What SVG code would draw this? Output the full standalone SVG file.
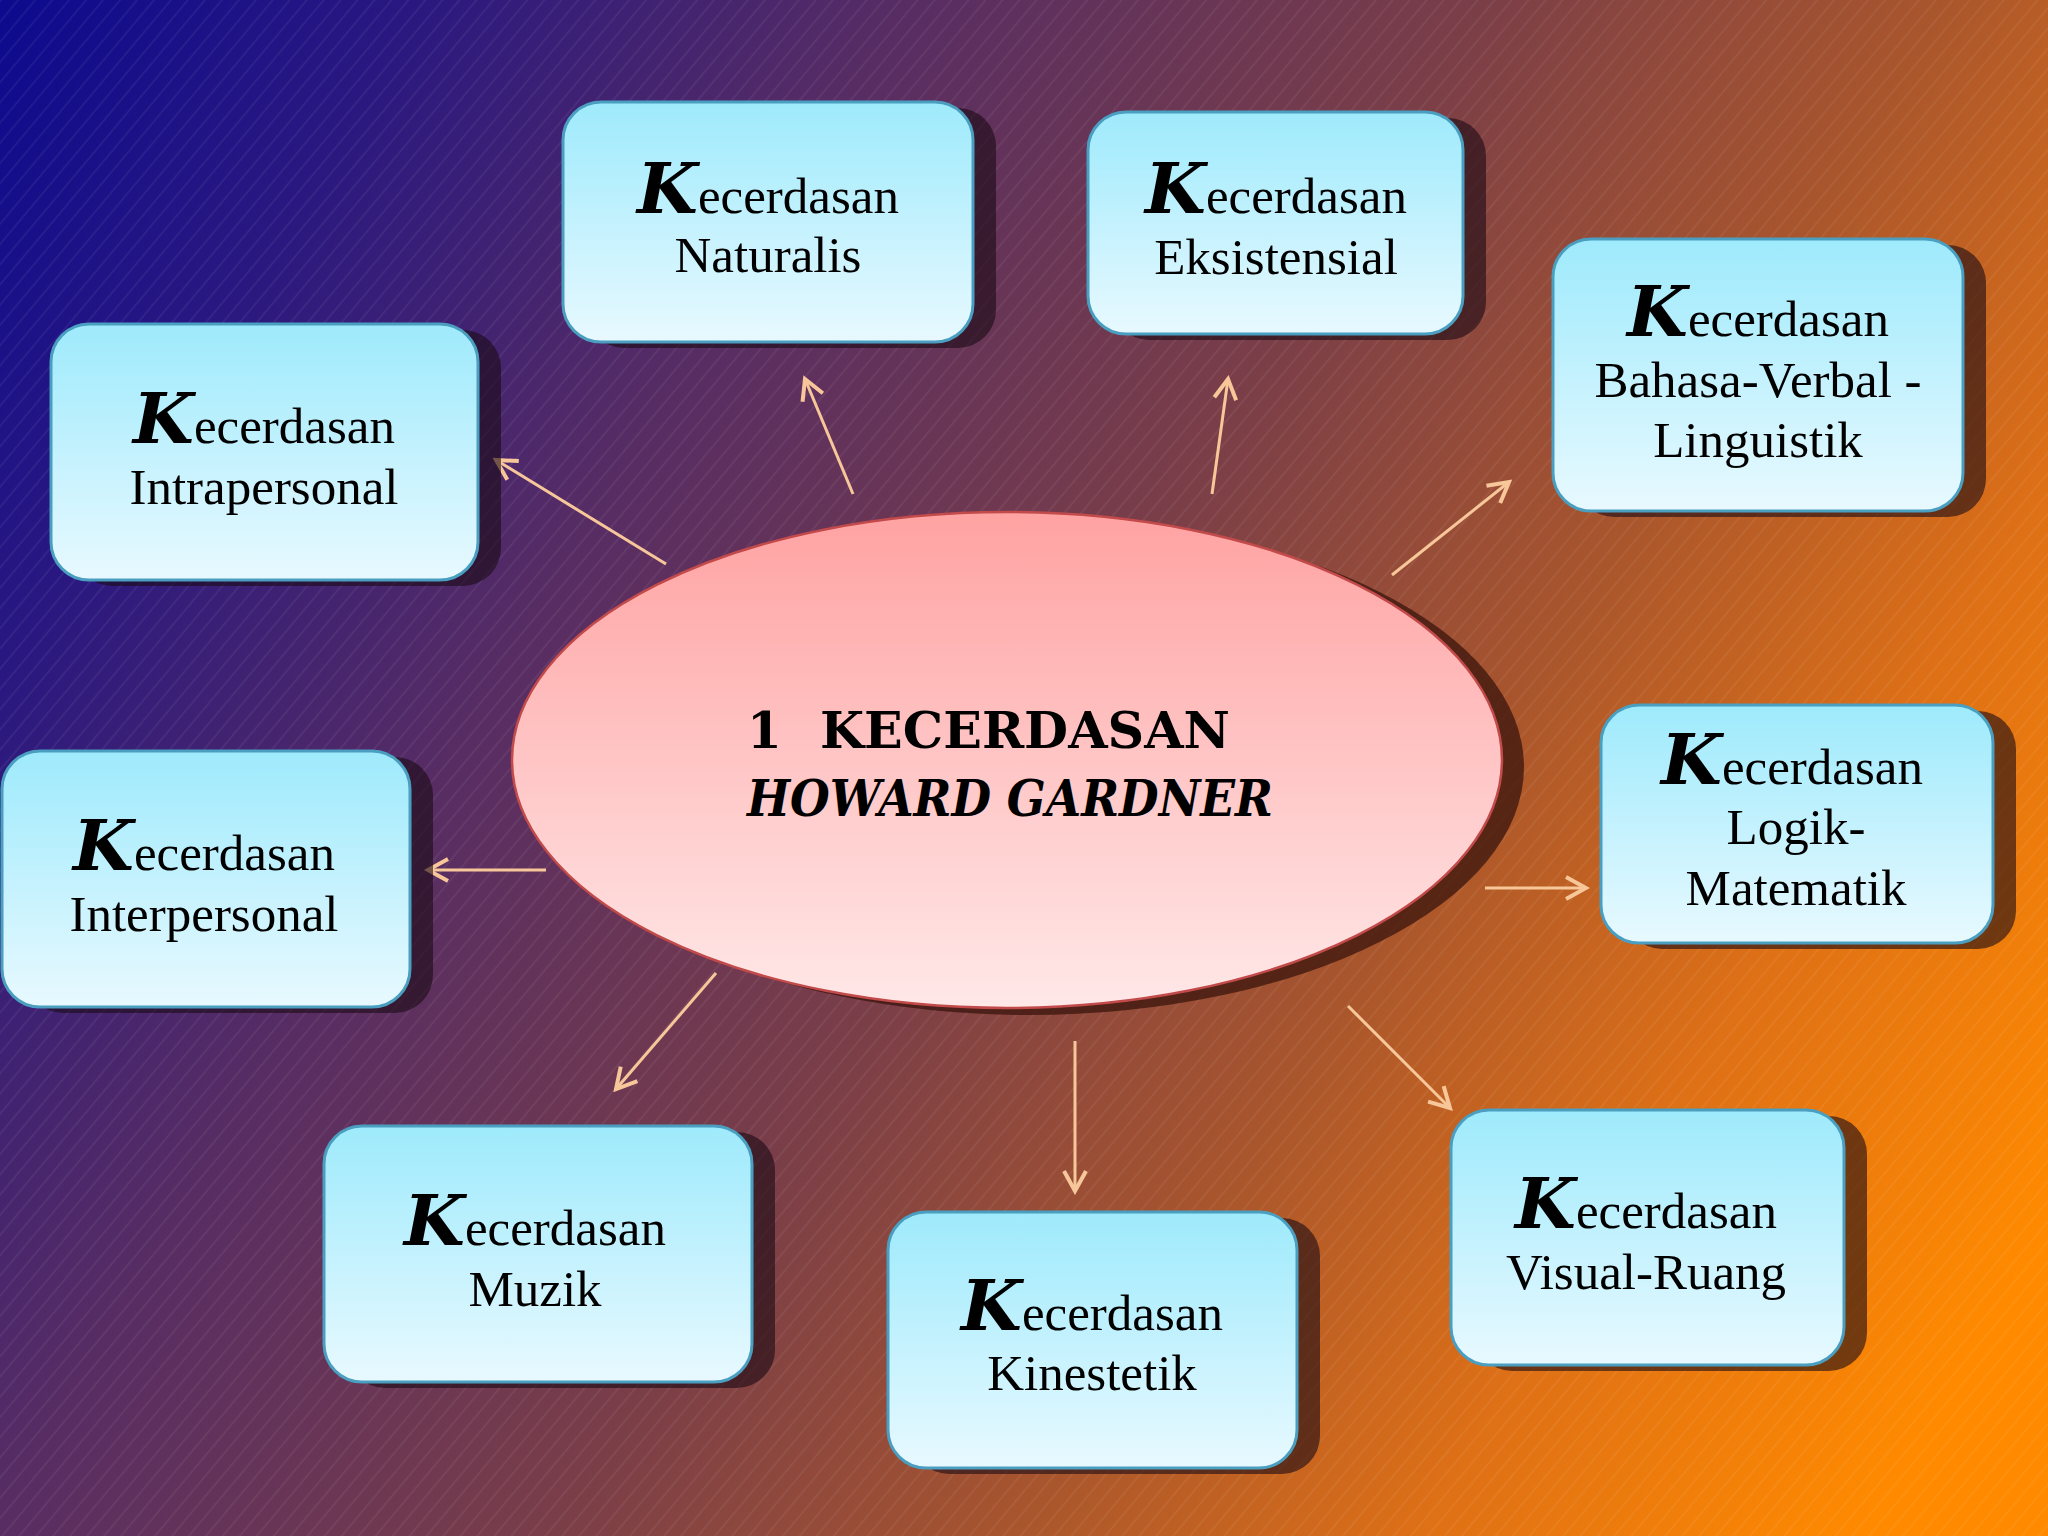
<svg xmlns="http://www.w3.org/2000/svg" width="2048" height="1536" viewBox="0 0 2048 1536">
<defs>
  <linearGradient id="bg" gradientUnits="userSpaceOnUse" x1="0" y1="0" x2="2048" y2="1229">
    <stop offset="0" stop-color="#0c0a8e"/>
    <stop offset="0.15" stop-color="#2a1880"/>
    <stop offset="0.32" stop-color="#562c64"/>
    <stop offset="0.53" stop-color="#7a3e48"/>
    <stop offset="0.70" stop-color="#aa562c"/>
    <stop offset="0.84" stop-color="#de7016"/>
    <stop offset="1" stop-color="#ff8a00"/>
  </linearGradient>
  <pattern id="stripes" patternUnits="userSpaceOnUse" width="13" height="13" patternTransform="rotate(40)">
    <line x1="1" y1="0" x2="1" y2="13" stroke="#ffffff" stroke-opacity="0.11" stroke-width="1"/>
  </pattern>
  <linearGradient id="boxfill" x1="0" y1="0" x2="0" y2="1">
    <stop offset="0" stop-color="#9eeafc"/>
    <stop offset="1" stop-color="#e8f9ff"/>
  </linearGradient>
  <linearGradient id="ellfill" x1="0" y1="0" x2="0" y2="1">
    <stop offset="0" stop-color="#ffa2a2"/>
    <stop offset="1" stop-color="#ffe8e8"/>
  </linearGradient>
  <marker id="arr" markerUnits="userSpaceOnUse" viewBox="-26 -16 30 32" refX="0" refY="0" markerWidth="30" markerHeight="32" orient="auto">
    <path d="M -20 -11 L 0 0 L -20 11" fill="none" stroke="#f7c79a" stroke-width="4"/>
  </marker>
  <style>
    .shadow { fill: #1a0a14; fill-opacity: 0.6; }
    .box { fill: url(#boxfill); stroke: #4a9ec0; stroke-width: 3; }
    .lbl { font-family: "Liberation Serif", "Times New Roman", serif; font-size: 51px; fill: #000; text-anchor: middle; }
    .k { font-family: "DejaVu Serif", serif; font-weight: bold; font-style: italic; font-size: 70px; }
    .conn line { stroke: #f7c79a; stroke-width: 3; marker-end: url(#arr); }
    .title { font-family: "DejaVu Serif", "Liberation Serif", serif; font-weight: bold; font-size: 50px; fill: #000; }
  </style>
</defs>

<rect x="0" y="0" width="2048" height="1536" fill="url(#bg)"/>
<rect x="0" y="0" width="2048" height="1536" fill="url(#stripes)"/>

<g id="connectors" class="conn">
  <line x1="666" y1="564" x2="496" y2="460"/>
  <line x1="853" y1="494" x2="805" y2="379"/>
  <line x1="1212" y1="494" x2="1228" y2="379"/>
  <line x1="1392" y1="575" x2="1509" y2="482"/>
  <line x1="1485" y1="888" x2="1586" y2="888"/>
  <line x1="1348" y1="1006" x2="1450" y2="1108"/>
  <line x1="1075" y1="1041" x2="1075" y2="1191"/>
  <line x1="716" y1="973" x2="616" y2="1089"/>
  <line x1="546" y1="870" x2="428" y2="870"/>
</g>

<g id="center">
  <ellipse cx="1029" cy="767" rx="495" ry="248" fill="#3a140c" fill-opacity="0.75"/>
  <ellipse cx="1007" cy="760" rx="495" ry="248" fill="url(#ellfill)" stroke="#c24a4a" stroke-width="2.5"/>
  <text class="title" y="748"><tspan x="747">1</tspan><tspan x="820" textLength="410" lengthAdjust="spacingAndGlyphs">KECERDASAN</tspan></text>
  <text class="title" x="747" y="816" font-style="italic" textLength="526" lengthAdjust="spacingAndGlyphs">HOWARD GARDNER</text>
</g>

<g id="naturalis">
  <rect class="shadow" x="586" y="108" width="410" height="240" rx="38"/>
  <rect class="box" x="563" y="102" width="410" height="240" rx="38"/>
  <text class="lbl" x="768" y="213"><tspan class="k">K</tspan>ecerdasan</text>
  <text class="lbl" x="768" y="272">Naturalis</text>
</g>

<g id="eksistensial">
  <rect class="shadow" x="1111" y="118" width="375" height="222" rx="38"/>
  <rect class="box" x="1088" y="112" width="375" height="222" rx="38"/>
  <text class="lbl" x="1276" y="213"><tspan class="k">K</tspan>ecerdasan</text>
  <text class="lbl" x="1276" y="274">Eksistensial</text>
</g>

<g id="intrapersonal">
  <rect class="shadow" x="74" y="330" width="427" height="256" rx="38"/>
  <rect class="box" x="51" y="324" width="427" height="256" rx="38"/>
  <text class="lbl" x="264" y="443"><tspan class="k">K</tspan>ecerdasan</text>
  <text class="lbl" x="264" y="504">Intrapersonal</text>
</g>

<g id="bahasa">
  <rect class="shadow" x="1576" y="245" width="410" height="272" rx="38"/>
  <rect class="box" x="1553" y="239" width="410" height="272" rx="38"/>
  <text class="lbl" x="1758" y="336"><tspan class="k">K</tspan>ecerdasan</text>
  <text class="lbl" x="1758" y="397">Bahasa-Verbal -</text>
  <text class="lbl" x="1758" y="457">Linguistik</text>
</g>

<g id="interpersonal">
  <rect class="shadow" x="25" y="757" width="408" height="256" rx="38"/>
  <rect class="box" x="2" y="751" width="408" height="256" rx="38"/>
  <text class="lbl" x="204" y="870"><tspan class="k">K</tspan>ecerdasan</text>
  <text class="lbl" x="204" y="931">Interpersonal</text>
</g>

<g id="logik">
  <rect class="shadow" x="1624" y="711" width="392" height="238" rx="38"/>
  <rect class="box" x="1601" y="705" width="392" height="238" rx="38"/>
  <text class="lbl" x="1792" y="784"><tspan class="k">K</tspan>ecerdasan</text>
  <text class="lbl" x="1796" y="844">Logik-</text>
  <text class="lbl" x="1796" y="905">Matematik</text>
</g>

<g id="muzik">
  <rect class="shadow" x="347" y="1132" width="428" height="256" rx="38"/>
  <rect class="box" x="324" y="1126" width="428" height="256" rx="38"/>
  <text class="lbl" x="535" y="1245"><tspan class="k">K</tspan>ecerdasan</text>
  <text class="lbl" x="535" y="1306">Muzik</text>
</g>

<g id="kinestetik">
  <rect class="shadow" x="911" y="1218" width="409" height="256" rx="38"/>
  <rect class="box" x="888" y="1212" width="409" height="256" rx="38"/>
  <text class="lbl" x="1092" y="1330"><tspan class="k">K</tspan>ecerdasan</text>
  <text class="lbl" x="1092" y="1390">Kinestetik</text>
</g>

<g id="visual">
  <rect class="shadow" x="1474" y="1116" width="393" height="255" rx="38"/>
  <rect class="box" x="1451" y="1110" width="393" height="255" rx="38"/>
  <text class="lbl" x="1646" y="1228"><tspan class="k">K</tspan>ecerdasan</text>
  <text class="lbl" x="1646" y="1289">Visual-Ruang</text>
</g>
</svg>
